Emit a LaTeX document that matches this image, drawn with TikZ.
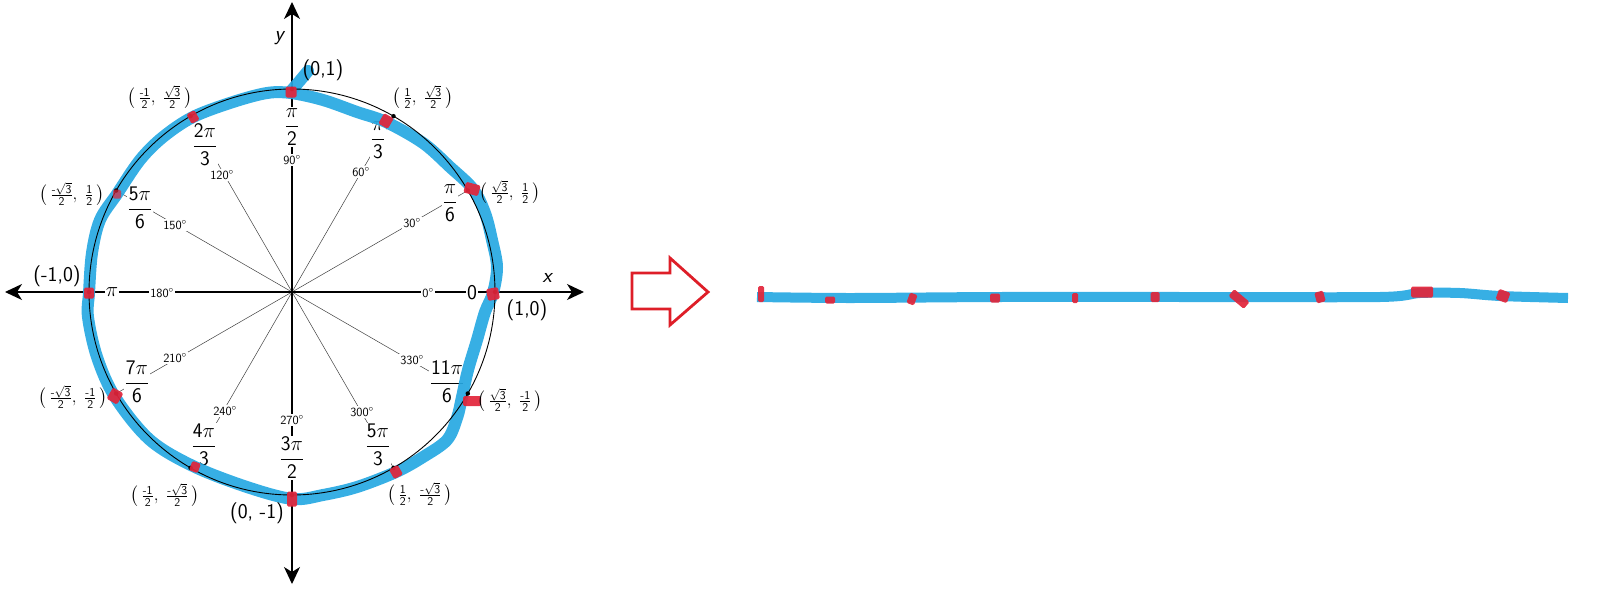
\documentclass[tikz,border=0pt]{standalone}
\usepackage{amsmath}
\usetikzlibrary{arrows.meta}
\definecolor{bandblue}{RGB}{38,168,226}
\definecolor{markred}{RGB}{226,36,58}
\definecolor{arrowred}{RGB}{222,30,40}
\newcommand\fr[2]{$\dfrac{\mathsf{#1}}{\mathsf{#2}}$}
\newcommand\cpt[4]{$\bigl(\,\tfrac{\mathsf{#1}}{\mathsf{#2}},\;\tfrac{\mathsf{#3}}{\mathsf{#4}}\,\bigr)$}
\newcommand\mn{\text{-}}
\begin{document}
\begin{tikzpicture}[x=1pt,y=-1pt,
  ray/.style={line width=0.5pt, draw=black!75},
  axisline/.style={line width=1.2pt, draw=black, {Stealth[length=17pt,width=16pt,inset=5pt]}-{Stealth[length=17pt,width=16pt,inset=5pt]}},
  deg/.style={fill=white, inner sep=1.5pt, font=\sffamily\fontsize{12.5}{13}\selectfont},
  frc/.style={fill=white, inner sep=1pt, font=\sffamily\fontsize{21}{23}\selectfont},
  cp/.style={inner sep=0pt, font=\sffamily\fontsize{17}{20}\selectfont},
  big/.style={inner sep=0pt, font=\sffamily\fontsize{21}{24}\selectfont},
  band/.style={line width=12pt, draw=bandblue, opacity=0.92, line cap=round, line join=round},
  rmark/.style={fill=markred, inner sep=0pt, rounded corners=1.5pt, opacity=0.92},
  dotb/.style={circle, fill=black, inner sep=0pt, minimum size=4.5pt}]
\useasboundingbox (0,0) rectangle (1600,608);
\coordinate (O) at (292,292);
% rays
\begin{scope}[shift={(292,292)}, y=1pt]
  \foreach \a in {0,30,...,330} \coordinate (P\a) at (\a:203);
\end{scope}
\foreach \a in {30,60,120,150,210,240,300,330} \draw[ray] (O) -- (P\a);
% axes
\coordinate (xL) at (5,292);
\coordinate (xR) at (584,292);
\coordinate (yT) at (292,2);
\coordinate (yB) at (292,584);
\draw[axisline] (xL) -- (xR);
\draw[axisline] (yT) -- (yB);
% degree labels
\node[deg] (d0) at (428,293) {0$^\circ$};
\node[deg] (d30) at (412,223) {30$^\circ$};
\node[deg] (d60) at (361,172) {60$^\circ$};
\node[deg] (d90) at (292,160) {90$^\circ$};
\node[deg] (d120) at (222,175) {120$^\circ$};
\node[deg] (d150) at (175,225) {150$^\circ$};
\node[deg] (d180) at (162,293) {180$^\circ$};
\node[deg] (d210) at (175,358) {210$^\circ$};
\node[deg] (d240) at (225,411) {240$^\circ$};
\node[deg] (d270) at (292,420) {270$^\circ$};
\node[deg] (d300) at (362,412) {300$^\circ$};
\node[deg] (d330) at (412,360) {330$^\circ$};
% radian labels
\node[frc] (f0) at (472,293) {0};
\node[frc] (f30) at (450,203) {\fr{\pi}{6}};
\node[frc] (f60) at (378,140) {\fr{\pi}{3}};
\node[frc] (f90) at (292,127) {\fr{\pi}{2}};
\node[frc] (f120) at (205,145) {\fr{2\pi}{3}};
\node[frc] (f150) at (140,208) {\fr{5\pi}{6}};
\node[frc] (f180) at (112,292) {$\pi$};
\node[frc] (f210) at (137,382) {\fr{7\pi}{6}};
\node[frc] (f240) at (204,445) {\fr{4\pi}{3}};
\node[frc] (f270) at (292,458) {\fr{3\pi}{2}};
\node[frc] (f300) at (378,445) {\fr{5\pi}{3}};
\node[frc] (f330) at (447,382) {\fr{11\pi}{6}};
% hand-drawn blue band
\draw[band] plot[smooth cycle, tension=0.55] coordinates {
 (291,93) (323,100) (357,112) (386,122) (423,143) (450,167) (473,189)
 (485,213) (492,240) (497,267) (493,293) (485,312) (477,340) (468,370)
 (462,397) (457,418) (447,440) (423,457) (396,472) (357,487) (323,495)
 (293,499) (250,488) (195,467) (150,440) (115,397) (97,357) (88,317)
 (89,293) (92,253) (100,220) (117,194) (140,160) (163,137) (193,117)
 (233,102) (267,93)};
\coordinate (t0) at (291,91);
\coordinate (t1) at (308,71);
\draw[band] (t0) .. controls (298,83) .. (t1);
% unit circle
\draw[line width=0.9pt] (O) circle[radius=203];
\foreach \a in {0,30,...,330} \node[dotb] (dot\a) at (P\a) {};
% red marks
\node[rmark, minimum width=12pt, minimum height=12pt, rotate=10] (m0) at (493,294) {};
\node[rmark, minimum width=15pt, minimum height=11pt, rotate=-15] (m30) at (472,189) {};
\node[rmark, minimum width=11pt, minimum height=12pt, rotate=-30] (m60) at (386,121) {};
\node[rmark, minimum width=11pt, minimum height=11pt] (m90) at (291,92) {};
\node[rmark, minimum width=9pt, minimum height=11pt, rotate=30] (m120) at (193,117) {};
\node[rmark, minimum width=8pt, minimum height=9pt, opacity=0.7] (m150) at (117,194) {};
\node[rmark, minimum width=10pt, minimum height=11pt] (m180) at (89,293) {};
\node[rmark, minimum width=12pt, minimum height=13pt, rotate=-30] (m210) at (115,396) {};
\node[rmark, minimum width=9pt, minimum height=10pt, rotate=-20] (m240) at (195,467) {};
\node[rmark, minimum width=10pt, minimum height=15pt] (m270) at (292,499) {};
\node[rmark, minimum width=10pt, minimum height=11pt, rotate=30] (m300) at (396,472) {};
\node[rmark, minimum width=18pt, minimum height=10pt] (m330) at (472,401) {};
% coordinate labels
\node[big] (c90) at (323,70) {(0,1)};
\node[big] (c0) at (527,310) {(1,0)};
\node[big] (c180) at (57,276) {(-1,0)};
\node[big] (c270) at (257,513) {(0, -1)};
\node[cp] (c60) at (423,97) {\cpt{1}{2}{\sqrt3}{2}};
\node[cp] (c30) at (510,192) {\cpt{\sqrt3}{2}{1}{2}};
\node[cp] (c330) at (510,400) {\cpt{\sqrt3}{2}{\mn1}{2}};
\node[cp] (c300) at (420,494) {\cpt{1}{2}{\mn\sqrt3}{2}};
\node[cp] (c240) at (165,495) {\cpt{\mn1}{2}{\mn\sqrt3}{2}};
\node[cp] (c210) at (73,397) {\cpt{\mn\sqrt3}{2}{\mn1}{2}};
\node[cp] (c150) at (72,194) {\cpt{\mn\sqrt3}{2}{1}{2}};
\node[cp] (c120) at (160,97) {\cpt{\mn1}{2}{\sqrt3}{2}};
\node[big] (lx) at (548,278) {\textit{x}};
\node[big] (ly) at (280,38) {\textit{y}};
% red block arrow
\draw[draw=arrowred, line width=2.8pt, fill=white, line join=miter]
  (632,273) -- (670,273) -- (670,258) -- (708,292) -- (670,325) -- (670,309) -- (632,309) -- cycle;
% straightened band
\draw[line width=10pt, draw=bandblue, opacity=0.92] plot[smooth, tension=0.5] coordinates {
 (757,297) (850,298) (1000,297) (1200,297) (1380,297) (1420,293) (1460,293) (1500,296) (1568,298)};
\node[rmark, minimum width=6pt, minimum height=16pt] (s1) at (761,294) {};
\node[rmark, minimum width=10pt, minimum height=7pt] (s2) at (830,300) {};
\node[rmark, minimum width=8pt, minimum height=11pt, rotate=-20] (s3) at (912,299) {};
\node[rmark, minimum width=10pt, minimum height=9pt] (s4) at (995,298) {};
\node[rmark, minimum width=6pt, minimum height=10pt] (s5) at (1075,298) {};
\node[rmark, minimum width=9pt, minimum height=10pt] (s6) at (1155,297) {};
\node[rmark, minimum width=20pt, minimum height=9pt, rotate=-40] (s7) at (1239,299) {};
\node[rmark, minimum width=9pt, minimum height=11pt, rotate=15] (s8) at (1320,297) {};
\node[rmark, minimum width=22pt, minimum height=11pt] (s9) at (1422,292) {};
\node[rmark, minimum width=12pt, minimum height=11pt, rotate=-20] (s10) at (1503,296) {};
\end{tikzpicture}
\end{document}
